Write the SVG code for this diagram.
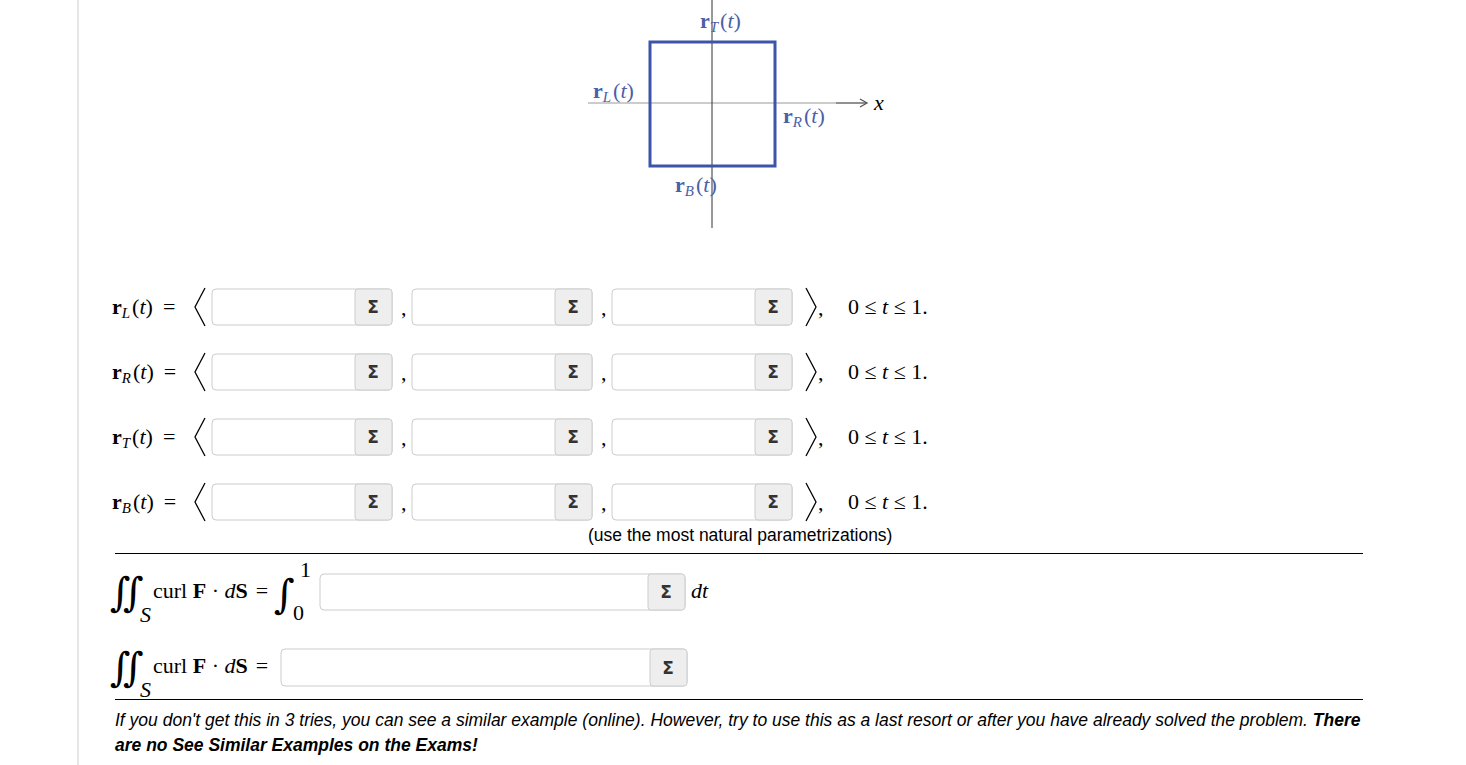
<svg xmlns="http://www.w3.org/2000/svg" width="1466" height="765" viewBox="0 0 1466 765">
<style>
.m{font-family:"Liberation Serif",serif;font-size:22px;fill:#000}
.lab{font-family:"Liberation Serif",serif;font-size:22px;fill:#4a60a8}
.box{fill:#fff;stroke:#ccc;stroke-width:1}
.sig{fill:#eee;stroke:#ccc;stroke-width:1}
.st{font-family:"DejaVu Sans",sans-serif;font-size:17px;font-weight:bold;fill:#333;text-anchor:middle}
.br{fill:none;stroke:#000;stroke-width:1.3}
.s{font-family:"Liberation Sans",sans-serif;font-size:17.5px;fill:#000}
.ig{font-family:"DejaVu Serif",serif;font-size:40px;fill:#000}
</style>
<rect width="1466" height="765" fill="#fff"/>
<line x1="78" y1="0" x2="78" y2="765" stroke="#ccc"/>
<g id="figure">
<line x1="588" y1="103" x2="836" y2="103" stroke="#bbb" stroke-width="1.5"/>
<line x1="836" y1="103" x2="866" y2="103" stroke="#555" stroke-width="1.3"/>
<path d="M860,99 L867,103 L860,107" fill="none" stroke="#555" stroke-width="1.3"/>
<text x="874" y="110" class="m" font-style="italic" fill="#555">x</text>
<line x1="712" y1="0" x2="712" y2="228" stroke="#333" stroke-width="1"/>
<rect x="650" y="42" width="125" height="124" fill="none" stroke="#3c55a8" stroke-width="3"/>
<text x="700" y="28" class="lab"><tspan font-weight="bold">r</tspan><tspan font-style="italic" font-size="15" dy="4">T</tspan><tspan dy="-4" dx="2">(</tspan><tspan font-style="italic">t</tspan>)</text>
<text x="593" y="98" class="lab"><tspan font-weight="bold">r</tspan><tspan font-style="italic" font-size="15" dy="4">L</tspan><tspan dy="-4" dx="2">(</tspan><tspan font-style="italic">t</tspan>)</text>
<text x="783" y="123" class="lab"><tspan font-weight="bold">r</tspan><tspan font-style="italic" font-size="15" dy="4">R</tspan><tspan dy="-4" dx="2">(</tspan><tspan font-style="italic">t</tspan>)</text>
<text x="675" y="192" class="lab"><tspan font-weight="bold">r</tspan><tspan font-style="italic" font-size="15" dy="4">B</tspan><tspan dy="-4" dx="2">(</tspan><tspan font-style="italic">t</tspan>)</text>
</g>
<defs>
<g id="row">
<path class="br" d="M205,-19 L195,0 L205,19"/>
<rect class="box" x="212" y="-18" width="180" height="36" rx="4"/>
<rect class="sig" x="355" y="-18" width="37" height="36" rx="3"/>
<text class="st" x="373" y="6">Σ</text>
<text class="m" x="401" y="8">,</text>
<rect class="box" x="412" y="-18" width="180" height="36" rx="4"/>
<rect class="sig" x="555" y="-18" width="37" height="36" rx="3"/>
<text class="st" x="573" y="6">Σ</text>
<text class="m" x="601" y="8">,</text>
<rect class="box" x="612" y="-18" width="180" height="36" rx="4"/>
<rect class="sig" x="755" y="-18" width="37" height="36" rx="3"/>
<text class="st" x="773" y="6">Σ</text>
<path class="br" d="M806,-19 L816,0 L806,19"/>
<text class="m" x="818" y="8">,</text>
<text class="m" x="848" y="7">0 ≤ <tspan font-style="italic">t</tspan> ≤ 1.</text>
</g>
</defs>
<g id="rowL"><text class="m" x="112" y="314"><tspan font-weight="bold">r</tspan><tspan font-style="italic" font-size="15" dy="4">L</tspan><tspan dy="-4" dx="2">(</tspan><tspan font-style="italic">t</tspan>)<tspan dx="10">=</tspan></text><use href="#row" y="307"/></g>
<g id="rowR"><text class="m" x="112" y="379"><tspan font-weight="bold">r</tspan><tspan font-style="italic" font-size="15" dy="4">R</tspan><tspan dy="-4" dx="2">(</tspan><tspan font-style="italic">t</tspan>)<tspan dx="10">=</tspan></text><use href="#row" y="372"/></g>
<g id="rowT"><text class="m" x="112" y="444"><tspan font-weight="bold">r</tspan><tspan font-style="italic" font-size="15" dy="4">T</tspan><tspan dy="-4" dx="2">(</tspan><tspan font-style="italic">t</tspan>)<tspan dx="10">=</tspan></text><use href="#row" y="437"/></g>
<g id="rowB"><text class="m" x="112" y="509"><tspan font-weight="bold">r</tspan><tspan font-style="italic" font-size="15" dy="4">B</tspan><tspan dy="-4" dx="2">(</tspan><tspan font-style="italic">t</tspan>)<tspan dx="10">=</tspan></text><use href="#row" y="502"/></g>
<text class="s" x="588" y="541">(use the most natural parametrizations)</text>
<line x1="115" y1="553.5" x2="1363" y2="553.5" stroke="#000"/>
<g id="int1">
<text class="ig" x="110" y="606">∬</text>
<text class="m" x="140" y="622" font-size="15" font-style="italic">S</text>
<text class="m" x="153" y="598">curl <tspan font-weight="bold">F</tspan> · <tspan font-style="italic">d</tspan><tspan font-weight="bold">S</tspan><tspan dx="8">=</tspan></text>
<text class="ig" x="274" y="608">∫</text>
<text class="m" x="300" y="577" font-size="14">1</text>
<text class="m" x="293" y="620" font-size="14">0</text>
<rect class="box" x="320" y="574" width="365" height="36" rx="4"/>
<rect class="sig" x="648" y="574" width="37" height="36" rx="3"/>
<text class="st" x="666" y="598">Σ</text>
<text class="m" x="691" y="598" font-style="italic">dt</text>
</g>
<g id="int2">
<text class="ig" x="110" y="681">∬</text>
<text class="m" x="140" y="697" font-size="15" font-style="italic">S</text>
<text class="m" x="153" y="673">curl <tspan font-weight="bold">F</tspan> · <tspan font-style="italic">d</tspan><tspan font-weight="bold">S</tspan><tspan dx="8">=</tspan></text>
<rect class="box" x="281" y="649" width="406" height="37" rx="4"/>
<rect class="sig" x="650" y="649" width="37" height="37" rx="3"/>
<text class="st" x="668" y="674">Σ</text>
</g>
<line x1="115" y1="699.5" x2="1363" y2="699.5" stroke="#000"/>
<text class="s" x="115" y="726" font-style="italic">If you don't get this in 3 tries, you can see a similar example (online). However, try to use this as a last resort or after you have already solved the problem. <tspan font-weight="bold">There</tspan></text>
<text class="s" x="115" y="751" font-style="italic" font-weight="bold">are no See Similar Examples on the Exams!</text>
</svg>
